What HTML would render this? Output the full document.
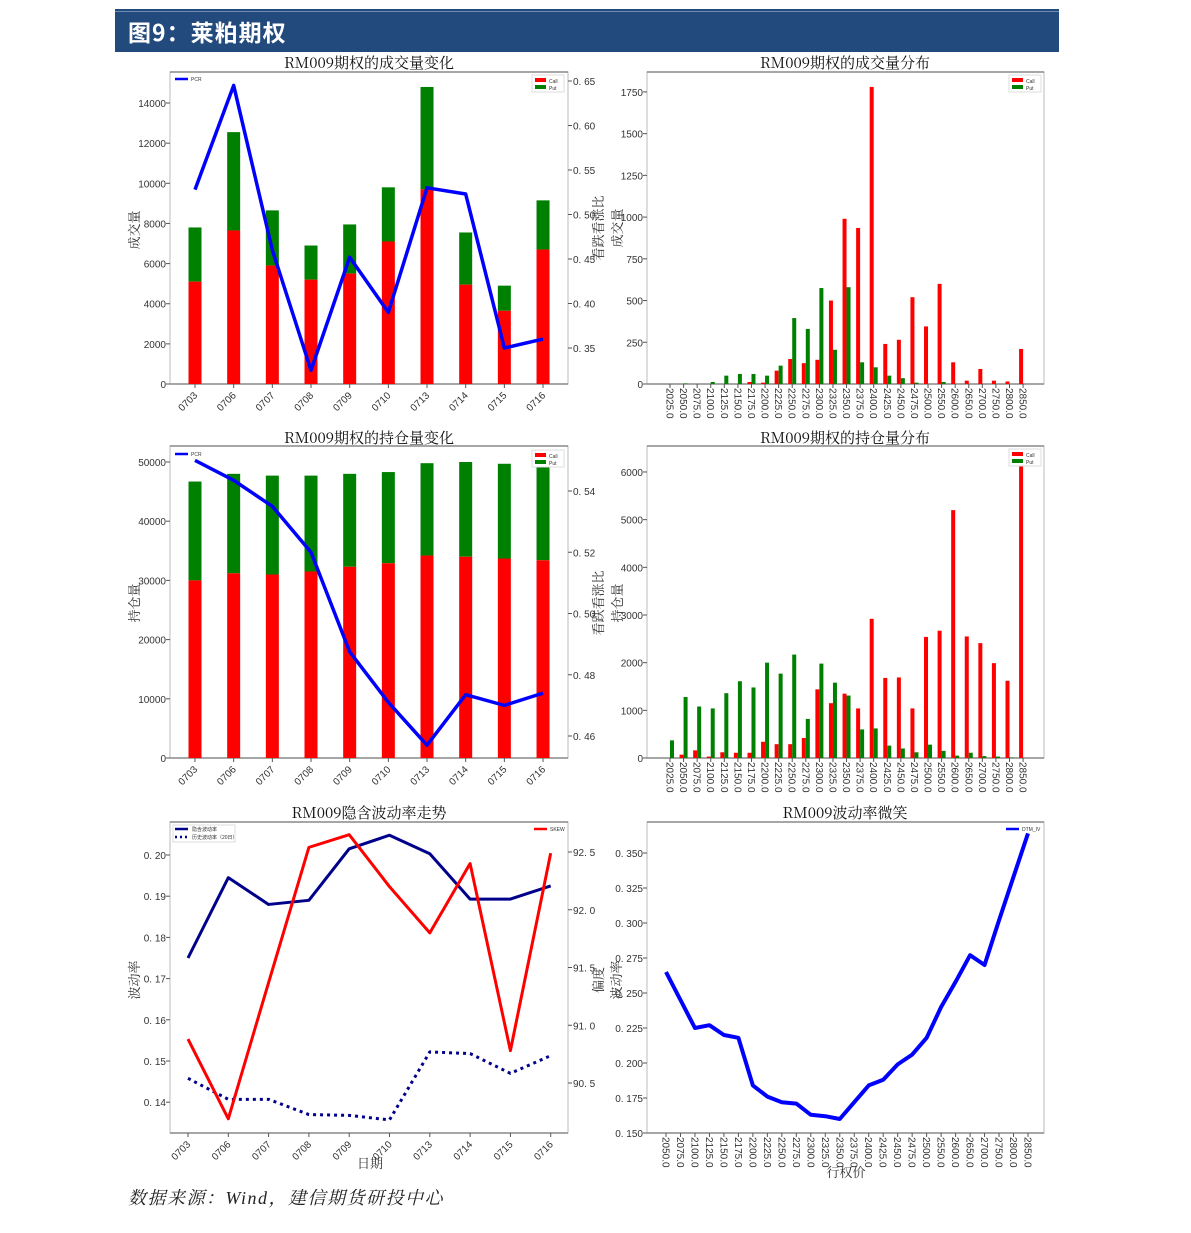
<!DOCTYPE html>
<html><head><meta charset="utf-8"><style>
body{margin:0;background:#fff}
svg text{font-family:"Liberation Sans","Noto Sans CJK SC",sans-serif}
.t{font-family:"Noto Serif CJK SC","Liberation Serif",serif;font-size:15px;fill:#111}
.k{font-size:10px;fill:#333}
.lab{font-family:"Noto Serif CJK SC",serif;font-size:13px;fill:#333}
</style></head><body>
<svg id="s" width="1191" height="1228" xmlns="http://www.w3.org/2000/svg">
<rect x="115" y="9" width="944" height="43" fill="#234a7c"/>
<rect x="115" y="11" width="944" height="1" fill="#6d8cb5"/>
<text x="128" y="41" font-size="23" font-weight="bold" fill="#fff" letter-spacing="1" style="font-family:'Noto Sans CJK SC',sans-serif">图9：莱粕期权</text>
<text class="t" x="369" y="68" text-anchor="middle">RM009期权的成交量变化</text>
<text class="t" x="845" y="68" text-anchor="middle">RM009期权的成交量分布</text>
<text class="t" x="369" y="443" text-anchor="middle">RM009期权的持仓量变化</text>
<text class="t" x="845" y="443" text-anchor="middle">RM009期权的持仓量分布</text>
<text class="t" x="369" y="818" text-anchor="middle">RM009隐含波动率走势</text>
<text class="t" x="845" y="818" text-anchor="middle">RM009波动率微笑</text>
<text class="lab" transform="translate(139,230) rotate(-90)" text-anchor="middle">成交量</text>
<text class="lab" transform="translate(139,603) rotate(-90)" text-anchor="middle">持仓量</text>
<text class="lab" transform="translate(139,980) rotate(-90)" text-anchor="middle">波动率</text>
<text class="lab" transform="translate(603,228) rotate(-90)" text-anchor="middle">看跌看涨比</text>
<text class="lab" transform="translate(622,228) rotate(-90)" text-anchor="middle">成交量</text>
<text class="lab" transform="translate(603,603) rotate(-90)" text-anchor="middle">看跌看涨比</text>
<text class="lab" transform="translate(622,603) rotate(-90)" text-anchor="middle">持仓量</text>
<text class="lab" transform="translate(603,980) rotate(-90)" text-anchor="middle">偏度</text>
<text class="lab" transform="translate(621,980) rotate(-90)" text-anchor="middle">波动率</text>
<text class="lab" x="370" y="1168" text-anchor="middle">日期</text>
<text class="lab" x="846" y="1177" text-anchor="middle">行权价</text>
<text x="128" y="1204" font-size="18" font-style="italic" letter-spacing="1.5" fill="#222" style="font-family:'Liberation Serif','Noto Serif CJK SC',serif">数据来源：Wind，建信期货研投中心</text>
<g id="g"></g>
</svg>
<script>
var g=document.getElementById('g'),h='';
function R(x,y,w,hh,c){h+='<rect x="'+x+'" y="'+y+'" width="'+w+'" height="'+hh+'" fill="'+c+'"/>';}
function T(x,y,s,a,cls,tr){h+='<text class="'+(cls||'k')+'" x="'+x+'" y="'+y+'"'+(a?' text-anchor="'+a+'"':'')+(tr?' transform="'+tr+'"':'')+'>'+s+'</text>';}
function P(pts,c,w,d){h+='<polyline points="'+pts.join(' ')+'" fill="none" stroke="'+c+'" stroke-width="'+w+'" stroke-linejoin="round"'+(d?' stroke-dasharray="'+d+'"':'')+'/>';}
function frame(x0,y0,x1,y1){h+='<rect x="'+x0+'" y="'+y0+'" width="'+(x1-x0)+'" height="'+(y1-y0)+'" fill="none" stroke="#bbb" stroke-width="1"/>';
 h+='<line x1="'+x0+'" y1="'+y0+'" x2="'+x1+'" y2="'+y0+'" stroke="#888" stroke-width="1.5"/><line x1="'+x0+'" y1="'+y1+'" x2="'+x1+'" y2="'+y1+'" stroke="#888" stroke-width="1.5"/>';}
function lt(x,y){h+='<line x1="'+(x-4)+'" y1="'+y+'" x2="'+x+'" y2="'+y+'" stroke="#555"/>';}
function rt(x,y){h+='<line x1="'+x+'" y1="'+y+'" x2="'+(x+4)+'" y2="'+y+'" stroke="#555"/>';}
function bt(x,y){h+='<line x1="'+x+'" y1="'+y+'" x2="'+x+'" y2="'+(y+4)+'" stroke="#555"/>';}
function legCP(x,y){R(x,y,32,17,'#fff');h+='<rect x="'+x+'" y="'+y+'" width="32" height="17" fill="none" stroke="#ddd"/>';R(x+3,y+3,11,4,'red');R(x+3,y+10,11,4,'green');T(x+17,y+8,'Call','', 'k" style="font-size:5px');T(x+17,y+15,'Put','','k" style="font-size:5px');}
var dates=['0703','0706','0707','0708','0709','0710','0713','0714','0715','0716'];
function dateAxis(x0,st,y){dates.forEach(function(d,i){var x=x0+i*st;bt(x,y);T(x+3,y+12,d,'end','k','rotate(-45 '+(x+3)+' '+(y+12)+')');});}
frame(170,72,568,384);
var c1=[5100,7650,5900,5200,5500,7100,9700,4950,3650,6700],t1=[7800,12550,8650,6900,7950,9800,14800,7550,4900,9150];
var p1=[.528,.645,.46,.325,.452,.39,.53,.523,.35,.36];
function y1(v){return 384-v*0.02007}function yr1(v){return 81+(0.65-v)/0.05*44.5}
var pts=[];
dates.forEach(function(d,i){var x=195+i*38.67;R(x-6.5,y1(t1[i]),13,y1(c1[i])-y1(t1[i]),'green');R(x-6.5,y1(c1[i]),13,384-y1(c1[i]),'red');pts.push(x+','+yr1(p1[i]));});
P(pts,'blue',3.5);
for(var v=0;v<=14000;v+=2000){lt(170,y1(v));T(166,y1(v)+4,v,'end');}
[.35,.4,.45,.5,.55,.6,.65].forEach(function(v){rt(568,yr1(v));T(573,yr1(v)+4,v.toFixed(2).replace('.','. '));});
dateAxis(195,38.67,384);
R(173,75,30,8,'#fff');h+='<line x1="175" y1="79" x2="188" y2="79" stroke="blue" stroke-width="2.5"/>';T(191,81,'PCR','','k" style="font-size:5px');
legCP(532,75);
var ks=['2025','2050','2075','2100','2125','2150','2175','2200','2225','2250','2275','2300','2325','2350','2375','2400','2425','2450','2475','2500','2550','2600','2650','2700','2750','2800','2850'];
function dist(yb,sc,cv,pv,ticks,y0){frame(647,y0,1044,yb);ks.forEach(function(k,i){var x=670+i*13.58;if(cv[i])R(x-4,yb-cv[i]*sc,4,cv[i]*sc,'red');if(pv[i])R(x,yb-pv[i]*sc,4,pv[i]*sc,'green');bt(x,yb);T(x-3.5,yb+4,k+'.0','','k','rotate(90 '+(x-3.5)+' '+(yb+4)+')');});
ticks.forEach(function(v){lt(647,yb-v*sc);T(643,yb-v*sc+4,v,'end');});legCP(1009,y0+3);}
dist(384,0.1669,[0,0,0,0,0,0,12,8,80,150,125,145,500,990,935,1780,240,265,520,345,600,130,20,90,20,15,210],[0,3,0,12,50,60,60,50,110,395,330,575,205,580,130,100,50,35,8,0,12,0,0,0,0,0,0],[0,250,500,750,1000,1250,1500,1750],72);
frame(170,446,568,758);
var c3=[30000,31200,31000,31500,32300,32900,34200,34000,33700,33400],t3=[46700,48000,47700,47700,48000,48300,49800,50000,49700,49500];
var p3=[.550,.5435,.535,.52,.4875,.471,.457,.4735,.470,.474];
function y3(v){return 758-v*0.00592}function yr3(v){return 491+(0.54-v)/0.02*61.25}
pts=[];
dates.forEach(function(d,i){var x=195+i*38.67;R(x-6.5,y3(t3[i]),13,y3(c3[i])-y3(t3[i]),'green');R(x-6.5,y3(c3[i]),13,758-y3(c3[i]),'red');pts.push(x+','+yr3(p3[i]));});
P(pts,'blue',3.5);
for(v=0;v<=50000;v+=10000){lt(170,y3(v));T(166,y3(v)+4,v,'end');}
[.46,.48,.5,.52,.54].forEach(function(v){rt(568,yr3(v));T(573,yr3(v)+4,v.toFixed(2).replace('.','. '));});
dateAxis(195,38.67,758);
R(173,450,30,8,'#fff');h+='<line x1="175" y1="454" x2="188" y2="454" stroke="blue" stroke-width="2.5"/>';T(191,456,'PCR','','k" style="font-size:5px');
legCP(532,450);
dist(758,0.04767,[0,70,160,30,120,110,110,340,290,290,420,1440,1150,1350,1040,2920,1680,1690,1040,2540,2670,5200,2550,2410,1990,1620,6200],[370,1280,1080,1040,1360,1610,1480,2000,1770,2170,820,1980,1580,1310,600,620,260,200,120,280,150,50,110,40,30,10,0],[0,1000,2000,3000,4000,5000,6000],446);
frame(170,822,568,1133);
function y5(v){return 855+(0.2-v)*4120}function yr5(v){return 852+(92.5-v)*115.5}
var iv=[.175,.1945,.188,.189,.2015,.2048,.2003,.1893,.1893,.1925],hv=[.1458,.1407,.1407,.137,.1368,.1357,.1522,.1518,.147,.1513],sk=[90.88,90.19,91.37,92.54,92.65,92.2,91.8,92.4,90.78,92.49];
var a=[],b=[],c=[];dates.forEach(function(d,i){var x=188+i*40.3;a.push(x+','+y5(iv[i]));b.push(x+','+y5(hv[i]));c.push(x+','+yr5(sk[i]));});
P(a,'#00008b',3);P(b,'#00008b',3,'3 4');P(c,'red',3);
[.14,.15,.16,.17,.18,.19,.2].forEach(function(v){lt(170,y5(v));T(166,y5(v)+4,v.toFixed(2).replace('.','. '),'end');});
[90.5,91,91.5,92,92.5].forEach(function(v){rt(568,yr5(v));T(573,yr5(v)+4,v.toFixed(1).replace('.','. '));});
dateAxis(188,40.3,1133);
R(173,825,62,17,'#fff');h+='<rect x="173" y="825" width="62" height="17" fill="none" stroke="#ddd"/>';
h+='<line x1="175" y1="829" x2="188" y2="829" stroke="#00008b" stroke-width="2.5"/><line x1="175" y1="837" x2="188" y2="837" stroke="#00008b" stroke-width="2.5" stroke-dasharray="2 3"/>';
T(192,831,'隐含波动率','','k" style="font-size:5px');T(192,839,'历史波动率（20日）','','k" style="font-size:5px');
R(532,825,32,8,'#fff');h+='<line x1="534" y1="829" x2="547" y2="829" stroke="red" stroke-width="2.5"/>';T(550,831,'SKEW','','k" style="font-size:5px');
frame(647,822,1044,1133);
var sm=[.265,.245,.225,.227,.22,.218,.184,.176,.172,.171,.163,.162,.160,.172,.184,.188,.199,.206,.218,.240,.258,.277,.270,.302,.333,.364];
var ks6=ks.slice(1);pts=[];
function y6(v){return 1133-(v-0.15)*1400}
ks6.forEach(function(k,i){var x=666+i*14.48;pts.push(x+','+y6(sm[i]));bt(x,1133);T(x-3.5,1137,k+'.0','','k','rotate(90 '+(x-3.5)+' 1137)');});
P(pts,'blue',4);
[.15,.175,.2,.225,.25,.275,.3,.325,.35].forEach(function(v){lt(647,y6(v));T(643,y6(v)+4,v.toFixed(3).replace('.','. '),'end');});
R(1004,825,37,8,'#fff');h+='<line x1="1006" y1="829" x2="1019" y2="829" stroke="blue" stroke-width="2.5"/>';T(1022,831,'DTM_IV','','k" style="font-size:5px');
g.innerHTML=h;
</script>
</body></html>
